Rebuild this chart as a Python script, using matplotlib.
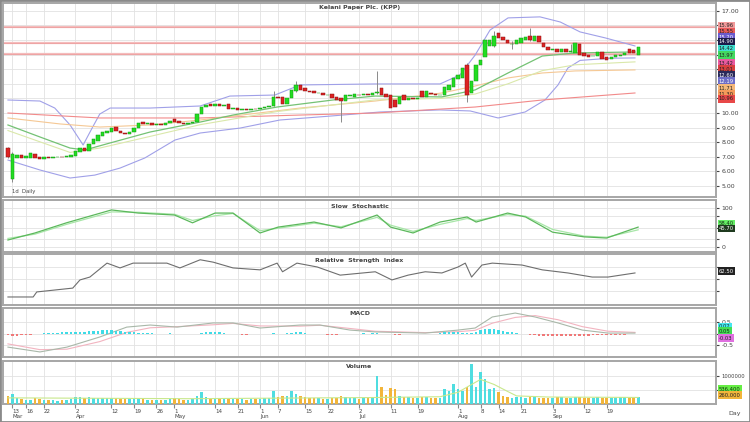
import matplotlib
matplotlib.use("Agg")
import matplotlib.pyplot as plt
from matplotlib.patches import Rectangle

# ---- price data (one candle per trading day) ----
opens = [7.6, 5.5, 6.9, 7.1, 6.95, 6.95, 7.2, 7.0, 6.85, 7.0,
         6.95, 6.98, 7.02, 7.0, 7.0, 7.05, 7.3, 7.6, 7.4, 7.9,
         8.1, 8.4, 8.6, 8.7, 9.05, 8.8, 8.6, 8.55, 8.7, 8.95,
         9.35, 9.25, 9.3, 9.2, 9.25, 9.2, 9.3, 9.6, 9.45, 9.3,
         9.25, 9.3, 9.35, 9.9, 10.4, 10.6, 10.45, 10.6, 10.5, 10.6,
         10.3, 10.35, 10.2, 10.25, 10.2, 10.3, 10.25, 10.35, 10.4, 10.5,
         11.1, 11.1, 10.6, 11.0, 11.5, 11.9, 11.7, 11.5, 11.5, 11.35,
         11.4, 11.2, 11.3, 11.1, 11.0, 10.85, 11.15, 11.1, 11.25, 11.2,
         11.3, 11.2, 11.35, 11.7, 11.3, 11.2, 10.9, 10.6, 11.2, 10.9,
         11.0, 10.95, 11.5, 11.1, 11.4, 11.3, 11.2, 11.2, 11.6, 11.8,
         12.3, 12.4, 13.3, 11.4, 12.2, 13.3, 13.8, 14.6, 14.6, 15.5,
         15.2, 15.0, 14.7, 14.7, 14.8, 15.0, 15.3, 14.9, 15.3, 14.8,
         14.5, 14.3, 14.4, 14.2, 14.35, 14.2, 14.1, 14.7, 14.1, 14.0,
         13.88, 13.9, 14.2, 13.8, 13.7, 13.8, 13.9, 13.95, 14.4, 14.3,
         14.0]
closes = [7.0, 7.2, 7.1, 6.95, 7.05, 7.25, 6.95, 6.85, 7.0, 6.95,
          7.0, 7.02, 7.0, 7.05, 7.1, 7.4, 7.6, 7.4, 7.9, 8.2,
          8.5, 8.7, 8.8, 9.0, 8.8, 8.6, 8.55, 8.7, 9.0, 9.3,
          9.25, 9.3, 9.2, 9.25, 9.2, 9.3, 9.45, 9.4, 9.3, 9.25,
          9.3, 9.35, 9.95, 10.4, 10.55, 10.45, 10.6, 10.5, 10.55, 10.3,
          10.35, 10.2, 10.25, 10.2, 10.3, 10.25, 10.35, 10.4, 10.5, 11.1,
          11.0, 10.6, 11.0, 11.6, 11.95, 11.6, 11.5, 11.45, 11.35, 11.4,
          11.2, 11.25, 11.05, 10.9, 10.85, 11.2, 11.2, 11.3, 11.2, 11.3,
          11.25, 11.35, 11.45, 11.2, 11.1, 10.35, 10.4, 11.1, 10.9, 11.0,
          10.95, 11.0, 11.1, 11.5, 11.3, 11.2, 11.25, 11.8, 11.9, 12.4,
          12.6, 13.1, 11.2, 12.2, 13.3, 13.6, 15.0, 15.0, 15.3, 15.1,
          15.0, 14.8, 14.75, 15.0, 15.1, 15.2, 15.0, 15.3, 14.85, 14.5,
          14.3, 14.35, 14.2, 14.35, 14.2, 14.25, 14.8, 14.0, 13.9, 13.85,
          13.92, 14.2, 13.7, 13.6, 13.85, 13.95, 14.0, 14.1, 14.1, 14.1,
          14.5]
# candles with a visible shadow
wick_idx = [0, 1, 59, 64, 74, 82, 102, 108, 112, 116, 125]
wick_hi = [7.7, 7.3, 11.5, 12.2, 11.05, 12.9, 13.4, 15.6, 14.9, 15.8, 14.7]
wick_lo = [6.9, 5.3, 10.45, 11.45, 9.4, 11.3, 10.75, 14.55, 14.4, 14.95, 14.15]

# ---- overlays (day index, price) ----
bb_up_x = [0, 7.1, 10.4, 13.8, 16.7, 18.7, 20.4, 22.7, 31.6, 42.7, 49.3, 59.3, 64.9,
           81.6, 96, 100.4, 103.8, 107.1, 111.1, 118.2, 122.7, 127.1, 132.7, 139.3]
bb_up = [10.89, 10.82, 10.34, 9.18, 7.81, 8.97, 9.93, 10.34, 10.34, 10.48, 11.16, 11.23, 11.92,
         11.99, 11.99, 12.6, 13.97, 15.68, 16.51, 16.58, 16.23, 15.55, 15.14, 14.59]
bb_lo_x = [0, 7.1, 13.8, 19.3, 24.9, 30.4, 37.1, 42.7, 51.6, 60.4, 71.6, 82.7, 96,
           102.7, 108.9, 114.9, 119.3, 122.2, 124.4, 127.1, 133.8, 139.3]
bb_lo = [6.78, 6.1, 5.55, 5.75, 6.23, 6.92, 8.15, 8.63, 8.97, 9.52, 9.79, 10.07, 10.21,
         10.14, 9.66, 10.07, 10.89, 11.92, 13.08, 13.6, 13.75, 13.77]
ma_g_x = [0, 7.1, 13.8, 17.1, 22.7, 31.6, 42.7, 50, 59.8, 72.2, 81.6, 96.4, 103.8,
          111.1, 118.7, 126, 139.3]
ma_g = [9.18, 8.36, 7.6, 7.47, 7.95, 8.7, 9.38, 9.86, 10.41, 10.89, 11.16, 11.1, 11.58,
        12.74, 13.9, 14.11, 14.18]
ma_o_x = [0, 11.6, 20.4, 31.6, 42.7, 53.8, 64.9, 81.6, 96.4, 103.8, 111.1, 118.7, 126, 139.3]
ma_o = [9.66, 9.25, 9.04, 9.18, 9.52, 9.93, 10.34, 10.82, 11.37, 11.85, 12.4, 12.74, 12.88, 12.95]
ma_r_x = [0, 20.4, 42.7, 64.9, 81.6, 103.8, 118.7, 139.3]
ma_r = [10.0, 9.66, 9.66, 9.86, 10.0, 10.41, 10.89, 11.37]
ma_y_x = [0, 13.8, 20.4, 31.6, 42.7, 59.8, 81.6, 96.4, 103.8, 111.1, 118.7, 126, 139.3]
ma_y = [8.8, 7.3, 7.6, 8.4, 9.2, 10.1, 10.9, 11.0, 11.3, 12.0, 12.9, 13.3, 13.5]
levels = [15.89, 14.79, 14.04]

tag_vals = [15.96, 15.55, 15.20, 14.90, 14.42, 13.97, 13.42, 13.01, 12.60, 12.19, 11.71, 11.30, 10.96]
tag_cols = ['#f29a9a', '#e85a5a', '#6a5acd', '#1c1c4a', '#3fe0d0', '#44d860', '#ea5aa0',
            '#d94040', '#2a2a5a', '#6e6ec8', '#f5b87a', '#f49a5a', '#e84848']

# ---- slow stochastic ----
st_x = [0, 6, 13, 23, 29, 37, 41, 46, 50, 56, 60, 68, 74, 82, 85, 90, 96, 102, 104, 111,
        115, 121, 128, 133, 140]
st_k = [18, 36, 62, 95, 87, 82, 62, 87, 87, 36, 51, 64, 49, 82, 51, 36, 64, 77, 64, 87,
        77, 38, 26, 23, 51]
st_d = [22, 33, 58, 90, 89, 84, 68, 80, 86, 42, 48, 61, 52, 76, 56, 40, 58, 73, 68, 83,
        79, 45, 28, 25, 44]

# ---- RSI ----
rsi_x = [0, 5.6, 6.4, 14.4, 16, 18.2, 22, 24.9, 27.8, 35.3, 38.2, 42.7, 45.6, 50, 56, 59.8,
         61, 64.2, 68.7, 73.8, 81.6, 85.3, 88.9, 92.7, 96.4, 100, 101.6, 103, 105.3, 107.6,
         114.2, 118.7, 124.4, 129.8, 133.3, 139.3]
rsi = [12.5, 12.5, 23, 31, 48, 54, 83, 73, 83, 83, 73, 90, 85, 73, 69, 83,
       65, 83, 75, 58, 65, 48, 58, 65, 62.5, 75, 83, 54, 79, 83,
       79, 69, 62.5, 54, 54, 62.5]

# ---- MACD ----
macd_x = [0, 7.1, 13.1, 20.4, 26.4, 31.6, 37.6, 45.6, 50, 56, 64.9, 69.3, 76, 81.6, 92.7,
          100, 103.8, 107.6, 112.7, 117.1, 122.2, 127.6, 133.3, 139.3]
macd = [-0.59, -0.8, -0.59, -0.15, 0.28, 0.37, 0.28, 0.46, 0.46, 0.24, 0.37, 0.37, 0.15, 0.07,
        0.02, 0.15, 0.24, 0.72, 0.89, 0.72, 0.46, 0.15, 0.02, 0.02]
signal = [-0.45, -0.7, -0.68, -0.35, 0.05, 0.25, 0.3, 0.38, 0.44, 0.33, 0.32, 0.36, 0.22, 0.1,
          0.04, 0.08, 0.14, 0.45, 0.7, 0.78, 0.6, 0.3, 0.1, 0.05]
hist = [-0.08, -0.1, -0.09, -0.08, -0.07, -0.06, -0.02, 0.0, 0.01,
        0.03, 0.04, 0.04, 0.05, 0.05, 0.05, 0.06, 0.07, 0.08, 0.09, 0.10,
        0.13, 0.15, 0.16, 0.15, 0.13, 0.11,
        0.07, 0.05, 0.05, 0.04, 0.03, 0.03, 0.02,
        0.0, -0.01, 0.0, 0.01, 0.0,
        -0.03, -0.04, -0.04, -0.03, -0.02,
        0.04, 0.06, 0.07, 0.06, 0.05, 0.03,
        0.0,
        -0.03, -0.04, -0.05, -0.05, -0.04, -0.04, -0.03, -0.02,
        0.0, 0.01, 0.0, -0.01, 0.01,
        0.04, 0.06, 0.05, 0.03,
        -0.02, -0.03, -0.04, -0.04, -0.05, -0.05, -0.05, -0.04, -0.03, -0.02,
        -0.01, 0.0, 0.01, 0.0, 0.01, 0.02, 0.0,
        -0.03, -0.04, -0.05, -0.05, -0.04, -0.04, -0.03, -0.03, -0.02, -0.02, -0.01, -0.01,
        0.03, 0.05, 0.06, 0.06, 0.05, 0.04,
        0.02, 0.03, 0.08,
        0.14, 0.18, 0.2, 0.19, 0.16, 0.12, 0.08, 0.05,
        0.02, 0.0,
        -0.03, -0.05, -0.07, -0.09, -0.1, -0.11, -0.12, -0.12, -0.12, -0.11,
        -0.11, -0.1, -0.1, -0.09, -0.09, -0.08, -0.08, -0.07, -0.07, -0.06,
        -0.06, -0.05, -0.05, -0.04, -0.04, -0.03]

# ---- volume (thousands) ----
volume = [300, 350, 200, 180, 150, 160, 200, 170, 150, 140,
          130, 120, 140, 150, 180, 250, 260, 200, 240, 230,
          220, 230, 210, 200, 220, 190, 170, 180, 200, 220,
          180, 160, 150, 150, 140, 160, 180, 200, 170, 150,
          160, 180, 300, 420, 250, 220, 200, 180, 190, 210,
          180, 190, 170, 160, 180, 170, 190, 200, 220, 450,
          260, 300, 280, 480, 350, 280, 240, 220, 200, 210,
          190, 180, 200, 220, 300, 240, 200, 210, 190, 200,
          210, 230, 1000, 620, 330, 560, 520, 300, 260, 240,
          220, 200, 260, 240, 210, 200, 230, 520, 480, 700,
          520, 450, 600, 1430, 620, 1140, 900, 540, 560, 420,
          300, 260, 230, 240, 260, 230, 250, 240, 220, 210,
          230, 220, 240, 250, 230, 220, 260, 240, 230, 220,
          210, 240, 230, 220, 210, 230, 240, 250, 230, 220,
          260]
vma_x = [0, 40, 80, 96, 100, 103, 105, 108, 111, 113, 120, 140]
vma = [220, 190, 230, 260, 420, 700, 880, 700, 450, 290, 250, 235]

tick_pos = [1, 4, 8, 15, 23, 28, 33, 37, 46, 51, 56, 60, 66, 71, 78, 85, 91, 100, 105,
            109, 114, 121, 128, 133]
tick_lbl = ["13\nMar", "16", "22", "2\nApr", "12", "19", "26", "1\nMay", "14", "21", "1\nJun",
            "7", "15", "22", "2\nJul", "11", "19", "1\nAug", "8", "14", "21", "3\nSep", "12", "19"]

UP, DOWN = '#22dd22', '#dd2222'
GRID = '#e2e2e2'
FRAME = '#a6a6a6'
TXT = '#444444'

fig = plt.figure(figsize=(7.5, 4.22), dpi=100)
fig.patch.set_facecolor('white')


def panel(y0, y1):
    ax = fig.add_axes([3 / 750, 1 - y1 / 422, 713 / 750, (y1 - y0) / 422])
    ax.set_xlim(-1.1, 157.3)
    for s in ax.spines.values():
        s.set_color(FRAME)
        s.set_linewidth(1.4)
    ax.yaxis.tick_right()
    ax.tick_params(axis='y', labelsize=4.5, colors=TXT, length=2, pad=2)
    ax.set_xticks(tick_pos)
    ax.tick_params(axis='x', length=0, labelbottom=False)
    ax.grid(True, color=GRID, lw=0.6)
    ax.set_axisbelow(True)
    return ax


def tag(ax, val, col, text, tcol='white'):
    ax.text(1.004, val, text, transform=ax.get_yaxis_transform(), fontsize=3.8,
            color=tcol, va='center', ha='left', clip_on=False,
            bbox=dict(boxstyle='square,pad=0.25', fc=col, ec='none'))


days = list(range(len(opens)))

# ---------------- price panel ----------------
ax = panel(3, 197)
ax.set_ylim(4.25, 17.53)
ax.set_yticks([5, 6, 7, 8, 9, 10, 11, 12, 13, 14, 15, 16, 17])
ax.set_yticklabels(['5.00', '6.00', '7.00', '8.00', '9.00', '10.00', '', '', '', '', '', '', '17.00'])
for lv in levels:
    ax.axhline(lv, color='#f4bcbc', lw=1.6, zorder=1)
    ax.axhline(lv, color='#ec9a9a', lw=0.5, zorder=1)
ax.plot(bb_up_x, bb_up, color='#a0a0e8', lw=0.8, zorder=2)
ax.plot(bb_lo_x, bb_lo, color='#a0a0e8', lw=0.8, zorder=2)
ax.plot(ma_r_x, ma_r, color='#f28a8a', lw=0.8, zorder=2)
ax.plot(ma_o_x, ma_o, color='#f5c894', lw=0.8, zorder=2)
ax.plot(ma_y_x, ma_y, color='#dae8aa', lw=0.8, zorder=2)
ax.plot(ma_g_x, ma_g, color='#74c274', lw=0.9, zorder=2)
ax.vlines(wick_idx, wick_lo, wick_hi, color='#8a8a8a', lw=0.7, zorder=3)
for d, o, c in zip(days, opens, closes):
    up = c >= o
    ax.bar(d, c - o, bottom=o, width=0.72, color=UP if up else DOWN,
           edgecolor='#129a12' if up else '#8a1010', lw=0.35, zorder=4)
for v, col in zip(tag_vals, tag_cols):
    dark = col in ('#1c1c4a', '#2a2a5a', '#6a5acd', '#6e6ec8')
    tag(ax, v, col, f'{v:.2f}', 'white' if dark else '#222222')
ax.text(0.5, 0.992, 'Kelani Paper Plc. (KPP)', transform=ax.transAxes, fontsize=4.5,
        color=TXT, ha='center', va='top', fontweight='bold')
ax.text(0.012, 0.015, '1d  Daily', transform=ax.transAxes, fontsize=3.8, color=TXT,
        ha='left', va='bottom')

# ---------------- slow stochastic ----------------
ax = panel(200, 252)
ax.set_ylim(-12.8, 120.5)
ax.set_yticks([0, 20, 50, 80, 100])
ax.set_yticklabels(['0', '', '', '', '100'])
ax.plot(st_x, st_d, color='#a8e6a8', lw=0.9)
ax.plot(st_x, st_k, color='#5cb85c', lw=0.9)
tag(ax, 60, '#66ee66', '58.40', '#113311')
tag(ax, 47, '#1f3a1f', '45.70')
ax.text(0.5, 0.93, 'Slow  Stochastic', transform=ax.transAxes, fontsize=4.5, color=TXT,
        ha='center', va='top', fontweight='bold')

# ---------------- RSI ----------------
ax = panel(254, 305)
ax.set_ylim(-4.2, 102)
ax.set_yticks([25, 50, 75])
ax.set_yticklabels(['', '', ''])
ax.plot(rsi_x, rsi, color='#6e6e6e', lw=0.8)
tag(ax, 66, '#222222', '62.50')
ax.text(0.5, 0.93, 'Relative  Strength  Index', transform=ax.transAxes, fontsize=4.5,
        color=TXT, ha='center', va='top', fontweight='bold')

# ---------------- MACD ----------------
ax = panel(308, 357)
ax.set_ylim(-1.02, 1.11)
ax.set_yticks([-0.5, 0, 0.5])
ax.set_yticklabels(['-0.5', '', '0.5'])
ax.bar(days, hist, width=0.5, color=['#3fdbe6' if h >= 0 else '#f07878' for h in hist], zorder=3)
ax.plot(macd_x, signal, color='#f2b4c0', lw=0.8)
ax.plot(macd_x, macd, color='#a9b8a9', lw=0.8)
tag(ax, 0.3, '#44e6ee', '0.02', '#113333')
tag(ax, 0.1, '#44dd55', '0.05', '#113311')
tag(ax, -0.2, '#e070e0', '-0.03', '#222222')
ax.text(0.5, 0.93, 'MACD', transform=ax.transAxes, fontsize=4.5, color=TXT,
        ha='center', va='top', fontweight='bold')

# ---------------- volume ----------------
ax = panel(361, 404)
ax.set_ylim(0, 1540)
ax.set_yticks([500, 1000])
ax.set_yticklabels(['', '1000000'], fontsize=3.8)
ax.bar(days, volume, width=0.62,
       color=['#4fdde0' if c >= o else '#f2b53a' for o, c in zip(opens, closes)], zorder=3)
ax.plot(vma_x, vma, color='#c8e88c', lw=0.8, zorder=4)
tag(ax, 540, '#66ee44', '536,400', '#113311')
tag(ax, 330, '#f2b53a', '260,000', '#222222')
ax.text(0.5, 0.93, 'Volume', transform=ax.transAxes, fontsize=4.5, color=TXT,
        ha='center', va='top', fontweight='bold')
ax.tick_params(axis='x', labelbottom=True, length=3, color='#888888', labelsize=4,
               labelcolor=TXT, pad=0.5, direction='out')
ax.set_xticklabels(tick_lbl, ha='left', linespacing=0.95)

fig.text(735 / 750, 1 - 414 / 422, 'Day', fontsize=4.5, color=TXT, ha='center', va='center')
fig.patches.append(Rectangle((0, 0), 1, 1, transform=fig.transFigure, fill=False,
                             ec='#8a8a8a', lw=2))

fig.savefig('out.png', dpi=100)
